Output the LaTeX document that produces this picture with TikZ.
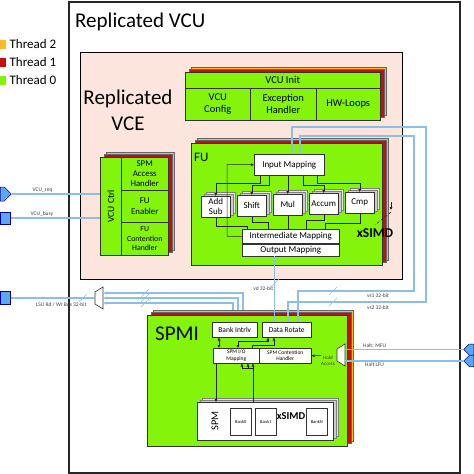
\documentclass[tikz,border=0pt]{standalone}
\usepackage{fontspec}
\setmainfont{Carlito}
\usetikzlibrary{positioning,shadows,shapes.symbols,arrows.meta}

\definecolor{thrzero}{RGB}{132,244,10}
\definecolor{throne}{RGB}{196,16,12}
\definecolor{thrtwo}{RGB}{250,188,36}
\definecolor{vcepink}{RGB}{252,229,220}
\definecolor{busblue}{RGB}{140,190,232}
\definecolor{portblue}{RGB}{92,168,238}

\begin{document}
\begin{tikzpicture}[x=1pt,y=-1pt,
        threads/.style = {draw=black!80, line width=0.5pt, fill=thrzero,
            inner sep=0pt, anchor=north west,
            copy shadow={fill=thrtwo, draw=black!60, line width=0.4pt,
                shadow xshift=5.5pt, shadow yshift=5pt},
            copy shadow={fill=throne, draw=black!60, line width=0.4pt,
                shadow xshift=3.5pt, shadow yshift=3.5pt}},
        cell/.style = {draw=black!80, line width=0.5pt, inner sep=0pt,
            anchor=north west, align=center,
            font=\fontsize{10.5}{12}\selectfont},
        box/.style = {cell, fill=white},
        stack/.style = {box,
            copy shadow={fill=gray!20, draw=black!50, line width=0.4pt,
                shadow xshift=5pt, shadow yshift=4pt},
            copy shadow={fill=gray!40, draw=black!50, line width=0.4pt,
                shadow xshift=2.5pt, shadow yshift=2pt}},
        fuunit/.style = {stack, minimum width=29, minimum height=21,
            font=\fontsize{9}{10}\selectfont},
        bigtxt/.style = {inner sep=0pt, font=\fontsize{21}{26}\selectfont},
        legsq/.style = {minimum width=6, minimum height=9, inner sep=0pt, anchor=west},
        legtxt/.style = {inner sep=0pt, font=\fontsize{13}{14}\selectfont},
        mux/.style = {draw=black!80, fill=white, line width=0.6pt},
        port/.style = {draw=blue!60!black, fill=portblue, line width=0.5pt,
            inner sep=0pt},
        bus/.style = {draw=busblue, line width=1.1pt},
        buscut/.style = {draw=busblue, line width=0.6pt},
        sig/.style = {draw=black!85, line width=0.5pt},
        arr/.style = {-{Latex[length=3pt,width=3pt]}},
        buslbl/.style = {inner sep=1pt, text=black!75,
            font=\fontsize{5.5}{6}\selectfont}]

        \useasboundingbox (0,0) rectangle (474,474);

        % Legend
        \node[legsq, fill=thrtwo] (lgtwo) at (0,44) {};
        \node[legtxt, right=3pt of lgtwo] (lgtwotxt) {Thread 2};
        \node[legsq, fill=throne] (lgone) at (0,62) {};
        \node[legtxt, right=3pt of lgone] (lgonetxt) {Thread 1};
        \node[legsq, fill=thrzero] (lgzero) at (0,80) {};
        \node[legtxt, right=3pt of lgzero] (lgzerotxt) {Thread 0};

        % Replicated VCU
        \node[draw=black!85, line width=1.6pt, minimum width=391, minimum height=471,
            anchor=north west] (vcu) at (68,1) {};
        \node[bigtxt, anchor=base west] (vcutxt) at (75,27) {Replicated VCU};

        % Replicated VCE
        \node[draw=black, line width=1.2pt, fill=vcepink, minimum width=322,
            minimum height=227, anchor=north west] (vce) at (80,52) {};
        \node[bigtxt, align=center] (vcetxt) at (128,110) {Replicated\\VCE};

        % VCU Init
        \node[threads, minimum width=195, minimum height=48] (init) at (185,72) {};
        \node[cell, minimum width=195, minimum height=16] (initname) at (185,72) {VCU Init};
        \node[cell, minimum width=65, minimum height=32] (config) at (185,88) {VCU\\Config};
        \node[cell, minimum width=66, minimum height=32] (except) at (250,88) {Exception\\Handler};
        \node[cell, minimum width=64, minimum height=32] (hwloops) at (316,88) {HW-Loops};

        % VCU Ctrl
        \node[threads, minimum width=68, minimum height=98] (ctrl) at (100,157) {};
        \node[cell, minimum width=21, minimum height=98] (ctrlname) at (100,157) {};
        \node[rotate=90, font=\fontsize{9.5}{10}\selectfont] (ctrltxt) at (ctrlname.center) {VCU Ctrl};
        \node[cell, minimum width=47, minimum height=33, font=\fontsize{8.8}{10.2}\selectfont]
            (spmacc) at (121,157) {SPM\\Access\\Handler};
        \node[cell, minimum width=47, minimum height=32, font=\fontsize{8.8}{10.2}\selectfont]
            (fuen) at (121,190) {FU\\Enabler};
        \node[cell, minimum width=47, minimum height=33, font=\fontsize{7.8}{9.5}\selectfont]
            (fucont) at (121,222) {FU\\Contention\\Handler};

        % FU
        \node[threads, minimum width=191, minimum height=122] (fu) at (191,143) {};
        \node[anchor=base west, inner sep=0pt, font=\fontsize{13}{14}\selectfont] (futxt) at (194,161) {FU};
        \node[box, minimum width=70, minimum height=21, font=\fontsize{9}{10}\selectfont]
            (inmap) at (254,154) {Input Mapping};
        \node[fuunit] (addsub) at (201,196) {Add\\Sub};
        \node[fuunit] (shiftu) at (237,195) {Shift};
        \node[fuunit] (mul) at (273,194) {Mul};
        \node[fuunit] (accum) at (309,193) {Accum};
        \node[fuunit] (cmp) at (345,192) {Cmp};
        \node[box, minimum width=97, minimum height=14, font=\fontsize{9}{10}\selectfont]
            (intmap) at (242,229) {Intermediate Mapping};
        \node[box, minimum width=97, minimum height=12, font=\fontsize{9}{10}\selectfont]
            (outmap) at (intmap.south west) {Output Mapping};
        \node[font=\bfseries\fontsize{13.5}{14}\selectfont] (fusimd) at (375,233) {xSIMD};

        % FU signals
        \coordinate (fb) at (227,164.5);
        \draw[sig, arr] (intmap.west) -| (fb) -- (inmap.west);
        \draw[sig, arr] ([xshift=6pt]inmap.south west) -- ++(0,8) -| (addsub.north);
        \draw[sig, arr] ([xshift=15pt]inmap.south west) -- ++(0,10) -| (shiftu.north);
        \draw[sig, arr] (inmap.south -| mul.north) -- (mul.north);
        \draw[sig, arr] ([xshift=-21pt]inmap.south east) -- ++(0,10) -| (accum.north);
        \draw[sig, arr] ([xshift=-7pt]inmap.south east) -- ++(0,8) -| (cmp.north);
        \draw[sig] (addsub.south) -- ++(0,9) -| ([xshift=5pt]intmap.north west);
        \draw[sig] (shiftu.south) -- ++(0,6) -| ([xshift=26pt]intmap.north west);
        \draw[sig] (mul.south) -- (mul.south |- intmap.north);
        \draw[sig] (accum.south) -- ++(0,6) -| ([xshift=-33pt]intmap.north east);
        \draw[sig] (cmp.south) -- ++(0,10) -| ([xshift=-14pt]intmap.north east);
        \coordinate (simdtop) at (391,202);
        \coordinate (simdend) at (391,210);
        \draw[sig, arr] (simdtop) -- (simdend);
        \draw[sig, densely dashed] ([yshift=-2pt]simdend) -- (fusimd.north);

        % SPMI
        \node[threads, minimum width=200, minimum height=131] (spmi) at (147,315) {};
        \node[bigtxt, anchor=base west] (spmitxt) at (155,340) {SPMI};
        \node[box, minimum width=45, minimum height=15, font=\fontsize{7.5}{8}\selectfont]
            (bank) at (212,322) {Bank Intrlv};
        \node[box, minimum width=49, minimum height=15, font=\fontsize{7.5}{8}\selectfont]
            (datarot) at (262,322) {Data Rotate};
        \node[box, minimum width=46, minimum height=15, font=\fontsize{5.5}{6.5}\selectfont]
            (iomap) at (213,348) {SPM I/O\\Mapping};
        \node[box, minimum width=52, minimum height=15, font=\fontsize{5.5}{6.5}\selectfont]
            (cont) at (259,348) {SPM Contention\\Handler};

        % SPM
        \node[stack, minimum width=136, minimum height=38] (spm) at (197,402) {};
        \node[rotate=90, font=\fontsize{10.5}{11}\selectfont] (spmtxt) at (215,421) {SPM};
        \node[cell, minimum width=21, minimum height=27, font=\fontsize{4.5}{5}\selectfont]
            (bankzero) at (230,408) {Bank0};
        \node[cell, minimum width=21, minimum height=27, font=\fontsize{4.5}{5}\selectfont]
            (bankone) at (255,408) {Bank1};
        \node[font=\bfseries\fontsize{10.5}{11}\selectfont] (spmsimd) at (291,416) {xSIMD};
        \node[cell, minimum width=21, minimum height=27, font=\fontsize{4.5}{5}\selectfont]
            (bankn) at (306,408) {BankN};

        % SPMI signals
        \draw[sig, {Latex[length=3pt,width=3pt]}-{Latex[length=3pt,width=3pt]}]
            ([xshift=7pt]bank.south west) -- ([xshift=6pt]iomap.north west);
        \draw[sig, {Latex[length=3pt,width=3pt]}-{Latex[length=3pt,width=3pt]}]
            ([xshift=25pt]iomap.north west) -- ++(0,-7) -| ([xshift=6pt]datarot.south west);
        \draw[sig, arr] ([xshift=39pt]iomap.north west) -- ++(0,-3) -| ([xshift=12pt]datarot.south west);
        \draw[sig, arr] ([xshift=3pt]iomap.south west) -- ([xshift=3pt]iomap.south west |- spm.north);
        \draw[sig] ([xshift=56pt]spm.north west) -- ++(0,-34) -- ++(-11,0);
        \foreach \dx in {29,35,40}
            \draw[sig, arr] ([xshift=\dx pt, yshift=-5pt]iomap.south west) -- ([xshift=\dx pt]iomap.south west);

        % Hold access mux
        \draw[mux] (337,349) -- (345,344) -- (345,366) -- (337,361) -- cycle;
        \coordinate (holdmfu) at (345,349.5);
        \coordinate (holdlfu) at (345,361);
        \node[buslbl, align=center, font=\fontsize{5}{6.5}\selectfont] (hold) at (328,361) {Hold\\Access};
        \coordinate (holdin) at (321,355.5);
        \draw[sig, arr] (holdin) -- (cont.east);

        % Ports
        \node[port, signal, signal to=east, minimum width=11, minimum height=14,
            anchor=west] (req) at (0,194) {};
        \node[port, minimum width=10, minimum height=12, anchor=west] (busy) at (0,218) {};
        \node[port, minimum width=10, minimum height=13, anchor=west] (lsu) at (0,298) {};
        \node[port, signal, signal to=west, minimum width=10, minimum height=11,
            anchor=east] (mfu) at (474,349.5) {};
        \node[port, signal, signal to=west, minimum width=10, minimum height=11,
            anchor=east] (lfu) at (474,361) {};

        % VCU Ctrl buses
        \draw[bus] (req.east) -- (req.east -| ctrl.west)
            node[buslbl, pos=0.35, above] (reqlbl) {VCU\_req};
        \draw[bus] (busy.east) -- (busy.east -| ctrl.west)
            node[buslbl, pos=0.35, above] (busylbl) {VCU\_busy};

        % LSU bus and mux
        \draw[mux] (95,292) -- (103,287) -- (103,309) -- (95,304) -- cycle;
        \coordinate (lsuin) at (95,298);
        \coordinate (lsuout) at (103,298);
        \draw[bus] (lsu.east) -- (lsuin)
            node[buslbl, pos=0.6, below=3pt] (lsulbl) {LSU Rd / Wr Bus 32-bit};
        \foreach \dy/\dx in {5/96, 0/91, -5/86}
            \draw[bus, {Latex[length=3.5pt,width=3.5pt]}-]
                ([yshift=\dy pt]lsuout) -| ([xshift=\dx pt, yshift=5pt]spmi.north west);

        % FU <-> SPMI buses
        \draw[bus, arr] ([xshift=-16pt]outmap.south) -- ([xshift=-16pt]outmap.south |- datarot.north)
            node[buslbl, pos=0.5, left] (vdlbl) {vd 32-bit};
        \coordinate (vsonea) at (414,291);
        \coordinate (vsoneb) at (414,136);
        \draw[bus, arr] ([xshift=36pt]datarot.north west) |- (vsonea) -- (vsoneb)
            -| ([xshift=46pt]inmap.north west);
        \coordinate (vstwoa) at (426,302);
        \coordinate (vstwob) at (426,127);
        \draw[bus, arr] ([xshift=26pt]datarot.north west) |- (vstwoa) -- (vstwob)
            -| ([xshift=38pt]inmap.north west);
        \node[buslbl] (vsonelbl) at (378,296) {vs1 32-bit};
        \node[buslbl] (vstwolbl) at (378,308) {vs2 32-bit};

        % Halt buses
        \draw[bus] (holdmfu) -- (mfu.west)
            node[buslbl, pos=0.25, above] (mfulbl) {Halt: MFU};
        \draw[bus] (holdlfu) -- (lfu.west)
            node[buslbl, pos=0.25, below] (lfulbl) {Halt LFU};

        % Bus width marks
        \foreach \sx/\sy in {83/298, 145/293, 145/298, 145/303, 275/283, 333/291, 333/302}
            \draw[buscut] (\sx-4,\sy+4) -- (\sx+4,\sy-4);

    \end{tikzpicture}
\end{document}
